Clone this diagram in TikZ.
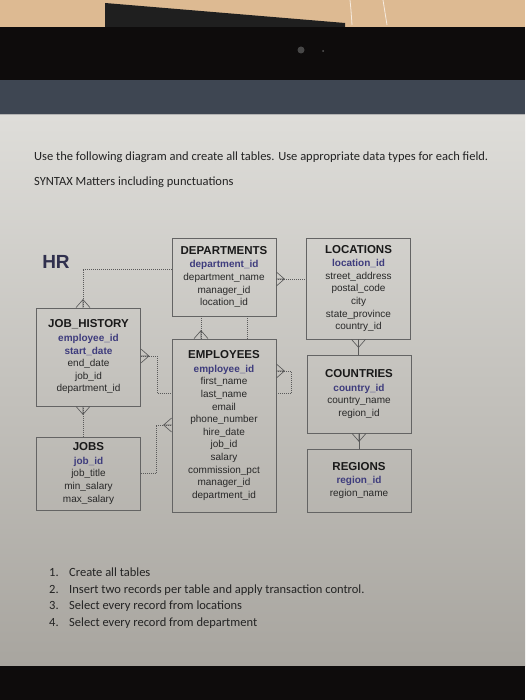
\documentclass[tikz,border=0pt]{standalone}
\usepackage{fontspec}
\setmainfont{Carlito}
\newfontfamily\erfont{Liberation Sans}
\usetikzlibrary{calc}

\definecolor{wall}{RGB}{221,186,146}
\definecolor{bezel}{RGB}{14,12,12}
\definecolor{barcol}{RGB}{62,70,82}
\definecolor{scrtop}{RGB}{222,221,217}
\definecolor{scrmid}{RGB}{212,210,205}
\definecolor{scrbot}{RGB}{168,165,159}
\definecolor{txtcol}{RGB}{35,35,35}
\definecolor{boxcol}{RGB}{100,100,100}
\definecolor{linecol}{RGB}{90,90,90}
\definecolor{pkcol}{RGB}{62,60,125}
\definecolor{fldcol}{RGB}{40,40,40}
\definecolor{hrcol}{RGB}{48,48,78}

\newcommand\tabtitle[1]{{\fontsize{11.5}{13}\selectfont\bfseries\color{black!90}#1}}
\newcommand\pkfield[1]{{\bfseries\color{pkcol}#1}}

\tikzset{
  crowline/.style={draw=linecol, line width=.65pt},
  crow/.pic={\draw[crowline] (-7pt,0pt) -- (0pt,8pt) -- (7pt,0pt) (0pt,0pt) -- (0pt,8pt);}
}

\begin{document}
\begin{tikzpicture}[x=1pt,y=-1pt,
      every node/.style={inner sep=1pt},
      intro/.style={anchor=base west, font=\fontsize{12.5}{14}\selectfont, text=txtcol},
      tbl/.style={draw=boxcol, line width=.85pt, minimum width=104pt, align=center,
        font=\erfont\fontsize{10}{12.6}\selectfont, text=fldcol},
      rel/.style={draw=linecol, line width=.65pt, dash pattern=on .8pt off 1.2pt}]
    \useasboundingbox (0,0) rectangle (525,700);
    % monitor and room
    \fill[wall] (0,0) rectangle (525,27);
    \fill[black!88] (105,3) -- (345,23) -- (345,27) -- (105,27) -- cycle;
    \draw[white!70!wall, line width=.8pt] (350,0) .. controls (351,10) .. (352,25);
    \draw[white!70!wall, line width=.8pt] (383,0) .. controls (385,12) .. (387,25);
    \fill[bezel] (0,27) rectangle (525,80);
    \fill[black!72] (301,50) circle (3.5pt);
    \fill[black!65] (323,51) circle (1pt);
    \fill[barcol] (0,80) rectangle (525,115);
    \fill[gray!60] (0,114) rectangle (525,116);
    \shade[top color=scrtop, middle color=scrmid, bottom color=scrbot] (0,116) rectangle (525,666);
    \fill[bezel] (0,666) rectangle (525,700);

    % instructions
    \node[intro] (intro) at (33,161) {Use the following diagram and create all tables. Use appropriate data types for each field.};
    \node[intro] (syntax) at (33,186) {SYNTAX Matters including punctuations};
    \foreach \ypos/\txt [count=\k] in {576/Create all tables,
        593/Insert two records per table and apply transaction control.,
        609/Select every record from locations,
        626/Select every record from department} {
      \node[intro] (num\k) at (48,\ypos) {\k.};
      \node[intro] (item\k) at (68,\ypos) {\txt};
    }

    % HR schema
    \node[font=\erfont\bfseries\fontsize{19}{21}\selectfont, text=hrcol] (hr) at (56,262) {HR};
    \node[tbl, minimum height=78pt] (dept) at (224,277)
      {\tabtitle{DEPARTMENTS}\\[1pt] \pkfield{department\_id}\\ department\_name\\ manager\_id\\ location\_id};
    \node[tbl, minimum height=101pt] (loc) at (358.5,288.5)
      {\tabtitle{LOCATIONS}\\[1pt] \pkfield{location\_id}\\ street\_address\\ postal\_code\\ city\\ state\_province\\ country\_id};
    \node[tbl, minimum height=98pt] (jh) at (88.5,357)
      {\tabtitle{JOB\_HISTORY}\\[1pt] \pkfield{employee\_id}\\ \pkfield{start\_date}\\ end\_date\\ job\_id\\ department\_id};
    \node[tbl, minimum height=173pt] (emp) at (224,425.5)
      {\tabtitle{EMPLOYEES}\\[1pt] \pkfield{employee\_id}\\ first\_name\\ last\_name\\ email\\ phone\_number\\
       hire\_date\\ job\_id\\ salary\\ commission\_pct\\ manager\_id\\ department\_id};
    \node[tbl, minimum height=73pt] (jobs) at (88.5,473.5)
      {\tabtitle{JOBS}\\[1pt] \pkfield{job\_id}\\ job\_title\\ min\_salary\\ max\_salary};
    \node[tbl, minimum height=78pt] (ctry) at (359,394)
      {\tabtitle{COUNTRIES}\\[1pt] \pkfield{country\_id}\\ country\_name\\ region\_id};
    \node[tbl, minimum height=63pt] (reg) at (359,480.5)
      {\tabtitle{REGIONS}\\[1pt] \pkfield{region\_id}\\ region\_name};

    % relationships
    \draw[rel] ([yshift=8pt]dept.west) -| ([xshift=-5.5pt]jh.north);
    \pic at ([xshift=-5.5pt]jh.north) {crow};
    \draw[rel] ([yshift=-2pt]dept.east) -- ([yshift=9.5pt]loc.west);
    \pic[rotate=-90] at ([yshift=-2pt]dept.east) {crow};
    \draw[rel] ([xshift=-23pt]dept.south) -- ([xshift=-23pt]emp.north);
    \pic at ([xshift=-23pt]emp.north) {crow};
    \draw[rel] ([xshift=23pt]dept.south) -- ([xshift=23pt]emp.north);
    \draw[rel] ([yshift=1pt]jh.east) -- ++(16pt,0pt) |- ([yshift=32.5pt]emp.west);
    \pic[rotate=-90] at ([yshift=1pt]jh.east) {crow};
    \draw[rel] ([xshift=-5.5pt]jh.south) -- ([xshift=-5.5pt]jobs.north);
    \pic[rotate=180] at ([xshift=-5.5pt]jh.south) {crow};
    \draw[rel] (jobs.east) -- ++(15pt,0pt) |- ([yshift=.5pt]emp.west);
    \pic[rotate=90] at ([yshift=.5pt]emp.west) {crow};
    \draw[rel] ([yshift=54.5pt]emp.east) -- ++(15pt,0pt) |- ([yshift=32.5pt]emp.east);
    \pic[rotate=-90] at ([yshift=54.5pt]emp.east) {crow};
    \draw[crowline] (loc.south) -- (loc.south |- ctry.north);
    \pic[rotate=180] at (loc.south) {crow};
    \draw[crowline] (ctry.south) -- (reg.north);
    \pic[rotate=180] at (ctry.south) {crow};
  \end{tikzpicture}
\end{document}
